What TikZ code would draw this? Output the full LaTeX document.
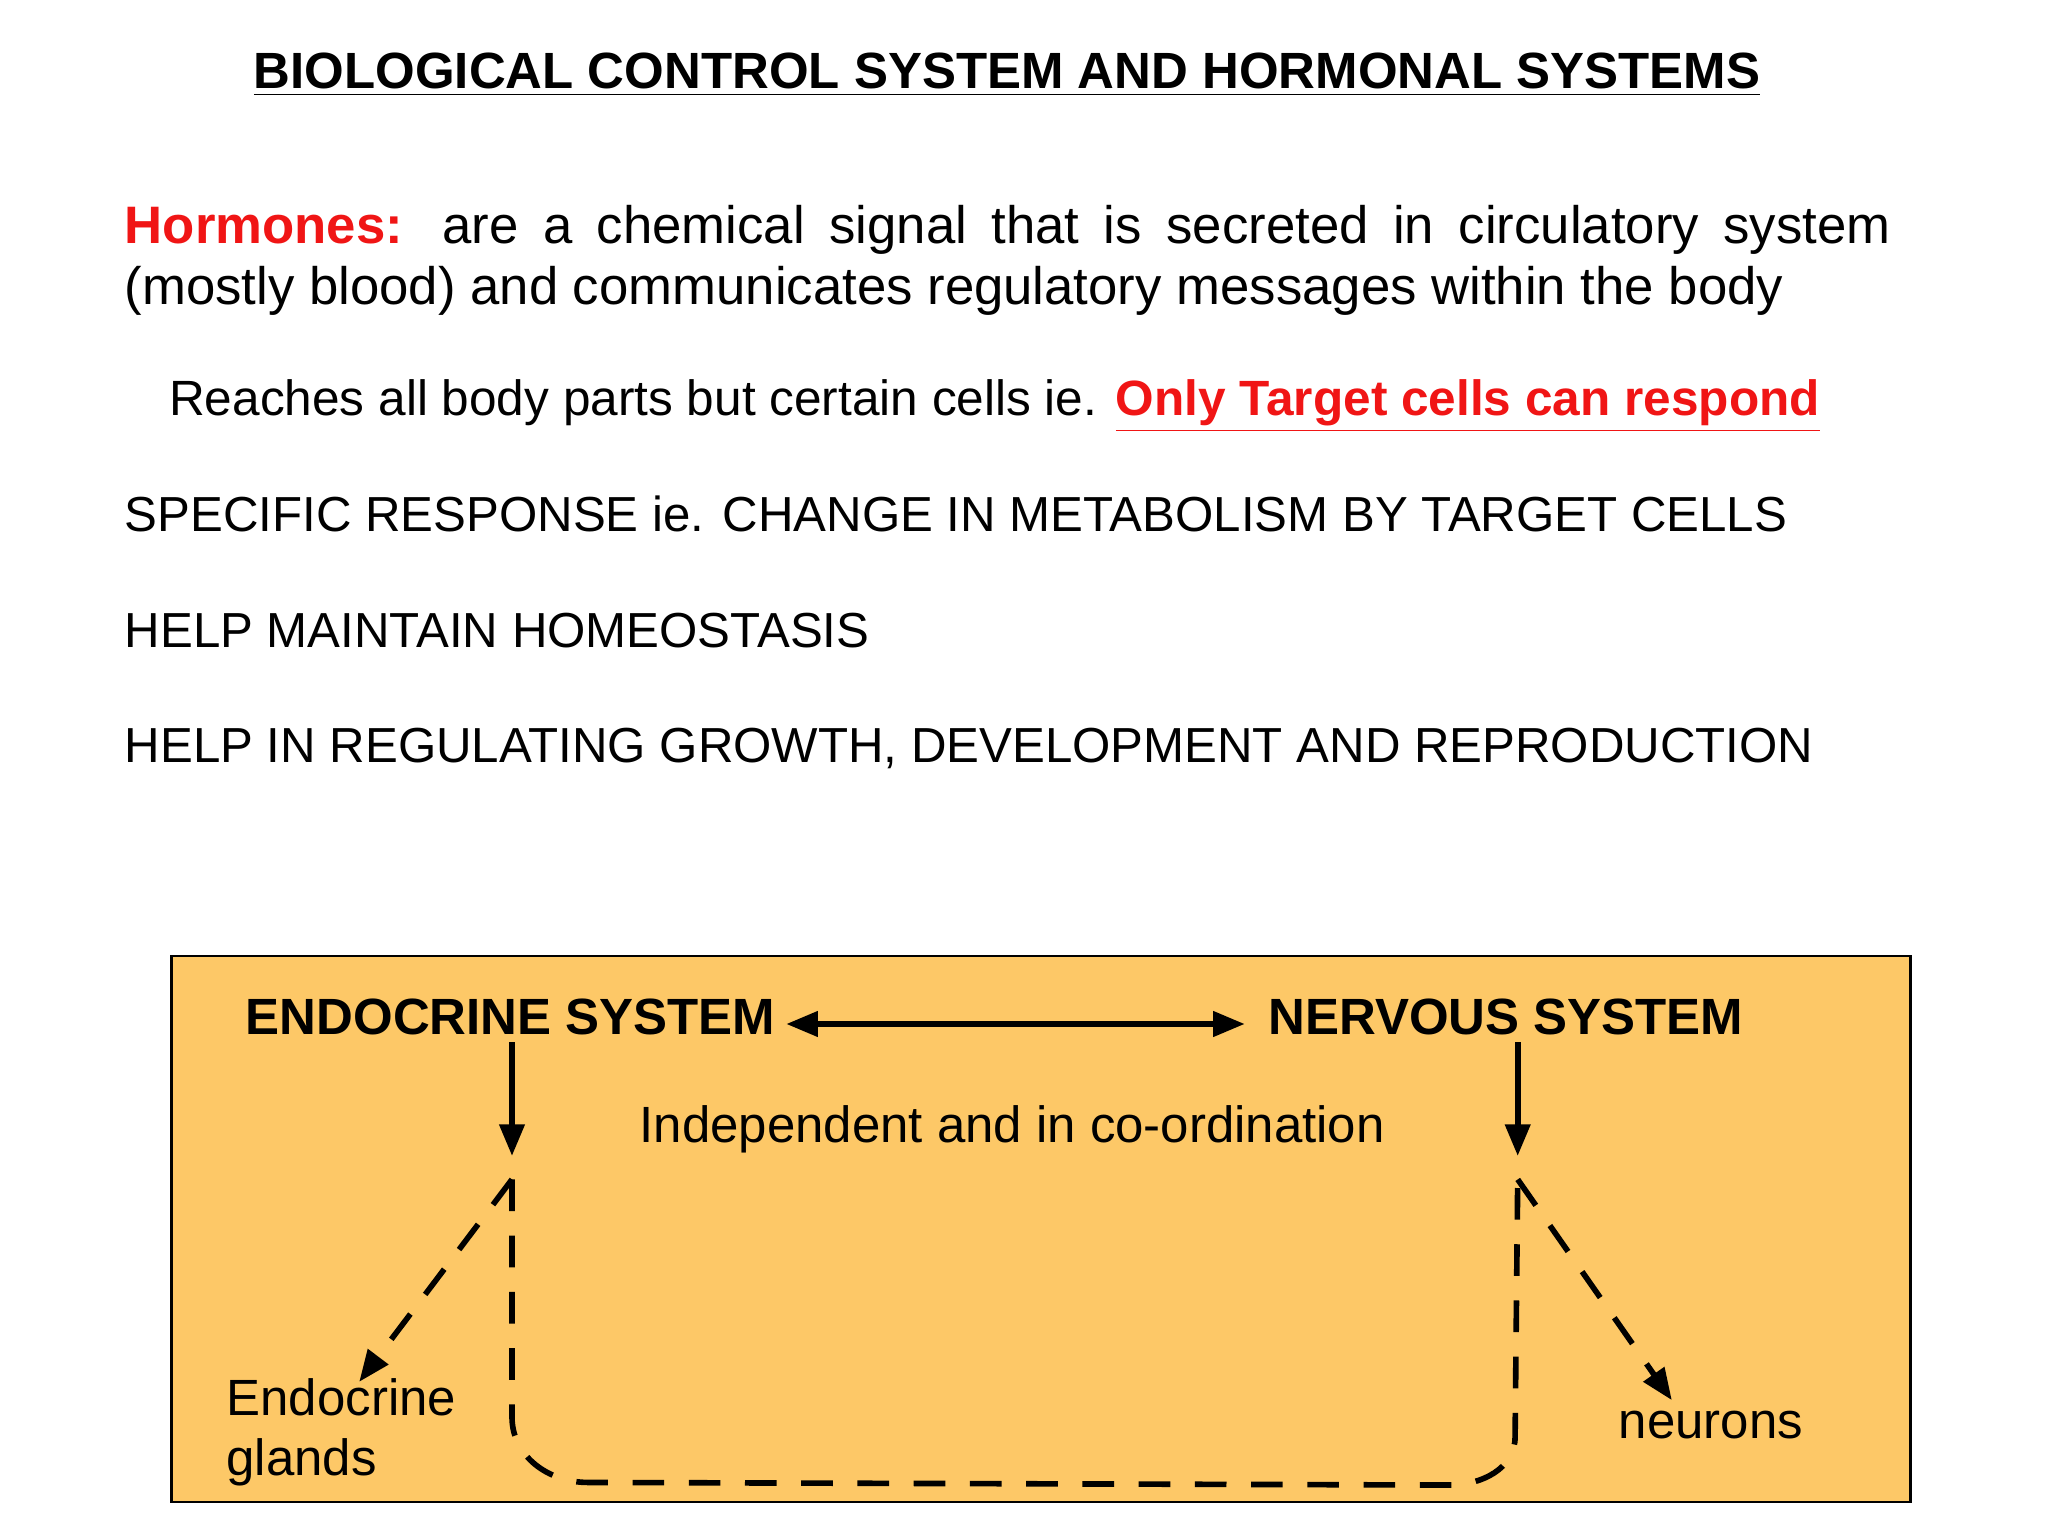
\documentclass[tikz,border=0pt]{standalone}
\usepackage{fontspec}
\setmainfont{Liberation Sans}
\usetikzlibrary{arrows.meta}
\definecolor{boxfill}{HTML}{FDC867}
\definecolor{hred}{HTML}{F01515}
\begin{document}
\begin{tikzpicture}[x=0.01306cm,y=-0.01306cm,
  txt/.style={anchor=base west,inner sep=0pt,font=\fontsize{14}{17}\selectfont},
  bt/.style={anchor=base,inner sep=0pt,font=\fontsize{14.5}{18}\selectfont\bfseries},
  arr/.style={line width=1.6pt,-{Triangle[length=9pt,width=7pt]}},
  dsh/.style={line width=1.6pt,dash pattern=on 9pt off 7pt}]
\useasboundingbox (0,0) rectangle (1568,1176);
\node[anchor=base,inner sep=0pt,font=\fontsize{14.5}{17}\selectfont\bfseries] (title) at (771,68) {\underline{BIOLOGICAL CONTROL SYSTEM AND HORMONAL SYSTEMS}};
\node[anchor=north west,inner sep=0pt,text width=1352*0.01306cm,align=justify,font=\fontsize{15}{17.2}\selectfont] (hor) at (95,157)
 {\textcolor{hred}{\textbf{Hormones:}} are a chemical signal that is secreted in circulatory system (mostly blood) and communicates regulatory messages within the body};
\node[txt,font=\fontsize{14.1}{17}\selectfont] (reach) at (129,318) {Reaches all body parts but certain cells ie. \textcolor{hred}{\textbf{\underline{Only Target cells can respond}}}};
\node[txt] (spec) at (95,407) {SPECIFIC RESPONSE ie. CHANGE IN METABOLISM BY TARGET CELLS};
\node[txt] (home) at (95,496) {HELP MAINTAIN HOMEOSTASIS};
\node[txt] (grow) at (95,584) {HELP IN REGULATING GROWTH, DEVELOPMENT AND REPRODUCTION};
\draw[fill=boxfill,line width=0.8pt] (131,732) rectangle (1463,1150);
\node[bt] (endo) at (391,792) {ENDOCRINE SYSTEM};
\node[bt] (nerv) at (1153,792) {NERVOUS SYSTEM};
\node[txt,anchor=base,font=\fontsize{14.5}{17}\selectfont] (ind) at (775,875) {Independent and in co-ordination};
\node[txt,align=left,anchor=north west,font=\fontsize{14.5}{17}\selectfont] (glands) at (173,1055) {Endocrine\\glands};
\node[txt,anchor=base,font=\fontsize{14.5}{17}\selectfont] (neur) at (1310,1101) {neurons};
\coordinate (lt) at (392,885);
\coordinate (lj) at (392,903);
\coordinate (rt) at (1162,885);
\coordinate (rj) at (1162,903);
\draw[line width=1.6pt,{Triangle[length=9pt,width=7pt]}-{Triangle[length=9pt,width=7pt]}] (602,784) -- (953,784);
\draw[arr] (392,798) -- (lt);
\draw[arr] (1162,798) -- (rt);
\draw[dsh,-{Triangle[length=9pt,width=7pt]}] (lj) -- (275,1058);
\draw[dsh,-{Triangle[length=9pt,width=7pt]}] (rj) -- (1280,1072);
\draw[dsh] (lj) -- (392,1085) to[out=-90,in=180] (450,1135) -- (1110,1137) to[out=0,in=-90] (1160,1100) -- (rj);
\end{tikzpicture}
\end{document}
